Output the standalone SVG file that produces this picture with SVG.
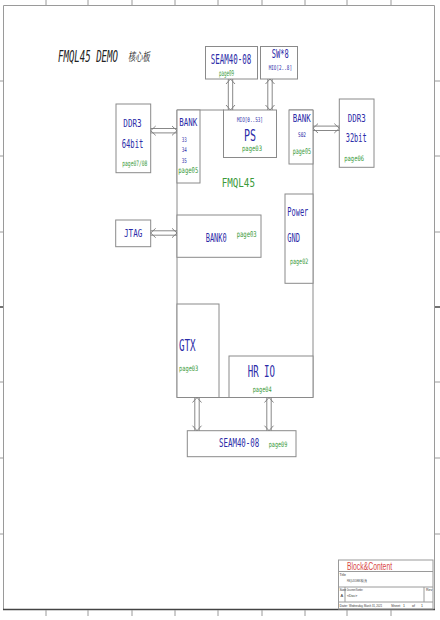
<svg xmlns="http://www.w3.org/2000/svg" width="440" height="620" viewBox="0 0 440 620">
<style>
.bx{fill:#fff;stroke:#8a8a8a;stroke-width:1}
.ln{fill:none;stroke:#8a8a8a;stroke-width:1}
.ar{fill:none;stroke:#7a7a7a;stroke-width:0.9}
.fr{fill:none;stroke:#9a9a9a;stroke-width:1}
.b{font-family:"DejaVu Sans Mono","Liberation Mono",monospace;fill:#2b2ba8}
.g{font-family:"DejaVu Sans Mono","Liberation Mono",monospace;fill:#3a9a3a}
.k{font-family:"DejaVu Sans Mono","Liberation Mono",monospace;fill:#222}
.t{font-family:"Liberation Sans",Arial,sans-serif;fill:#333}
</style>
<rect width="440" height="620" fill="#fff"/>
<g id="frame">
<path class="fr" d="M3.5,5.5 H434.5 V609 M3.5,5.5 V609"/>
<path d="M3,609.5 H435" stroke="#444" stroke-width="1.6" fill="none"/>
<path class="fr" d="M46,0 V5 M88,0 V5 M132,0 V5 M175,0 V5 M218,0 V5 M262,0 V5 M305,0 V5 M347,0 V5 M391,0 V5 M46,610 V616 M88,610 V616 M132,610 V616 M175,610 V616 M218,610 V616 M262,610 V616 M305,610 V616 M347,610 V616 M391,610 V616 M0,81 H3 M0,156 H3 M0,232 H3 M0,382 H3 M0,458 H3 M0,534 H3 M435,81 H440 M435,156 H440 M435,232 H440 M435,382 H440 M435,458 H440 M435,534 H440"/>
<path d="M0,307 H3 M435,307 H440" stroke="#444" stroke-width="1.5"/>
</g>
<g id="title">
<text class="k" font-size="16" font-style="italic" transform="translate(58,62) scale(0.566,1)">FMQL45 DEMO</text>
<text font-family="'Noto Sans CJK SC',sans-serif" font-size="12" font-style="italic" fill="#444" transform="translate(128,61) scale(0.61,1)">核心板</text>
</g>
<g id="fmql45">
<path class="ln" d="M224,110 H177 V397.5 H313 V110 H289"/>
<text class="g" font-size="13" transform="translate(221.7,186.7) scale(0.709,1)">FMQL45</text>
</g>
<g id="seam-top">
<rect class="bx" x="205.5" y="46.5" width="52" height="32.5"/>
<text class="b" font-size="13.5" transform="translate(210.7,64) scale(0.554,1)">SEAM40-08</text>
<text class="g" font-size="8" transform="translate(219,75.7) scale(0.519,1)">page09</text>
</g>
<g id="sw8">
<rect class="bx" x="260.5" y="46.5" width="37" height="32.5"/>
<text class="b" font-size="12.5" transform="translate(271.7,58.3) scale(0.565,1)">SW*8</text>
<text class="b" font-size="6.5" transform="translate(268.7,69.7) scale(0.662,1)">MIO[2..8]</text>
</g>
<g id="ps">
<rect class="bx" x="223.5" y="110" width="53" height="47.5"/>
<text class="b" font-size="6.5" transform="translate(237,122) scale(0.665,1)">MIO[0..53]</text>
<text class="b" font-size="16.5" transform="translate(244,140.5) scale(0.604,1)">PS</text>
<text class="g" font-size="7.5" transform="translate(242,151) scale(0.738,1)">page03</text>
</g>
<g id="bank-left">
<rect class="bx" x="177" y="110" width="23" height="73"/>
<text class="b" font-size="10.5" transform="translate(179.3,126) scale(0.712,1)">BANK</text>
<text class="b" font-size="6.5" transform="translate(181.7,142) scale(0.639,1)">33</text>
<text class="b" font-size="6.5" transform="translate(181.7,152) scale(0.639,1)">34</text>
<text class="b" font-size="6.5" transform="translate(181.7,162.7) scale(0.639,1)">35</text>
<text class="g" font-size="8" transform="translate(178.3,173.3) scale(0.692,1)">page05</text>
</g>
<g id="ddr3-64">
<rect class="bx" x="116" y="104" width="34.7" height="68.7"/>
<text class="b" font-size="11" transform="translate(123.3,126.7) scale(0.694,1)">DDR3</text>
<text class="b" font-size="11.5" transform="translate(121.7,147.7) scale(0.624,1)">64bit</text>
<text class="g" font-size="7.5" transform="translate(122.3,165.7) scale(0.616,1)">page07/08</text>
</g>
<g id="bank-right">
<rect class="bx" x="289" y="110" width="24" height="54"/>
<text class="b" font-size="10.5" transform="translate(292.7,121.7) scale(0.712,1)">BANK</text>
<text class="b" font-size="6.5" transform="translate(298,136.7) scale(0.681,1)">S02</text>
<text class="g" font-size="8" transform="translate(292.7,154) scale(0.633,1)">page05</text>
</g>
<g id="ddr3-32">
<rect class="bx" x="339.3" y="99" width="34.7" height="68.3"/>
<text class="b" font-size="11" transform="translate(347.7,122.3) scale(0.679,1)">DDR3</text>
<text class="b" font-size="11.5" transform="translate(345.7,142.3) scale(0.607,1)">32bit</text>
<text class="g" font-size="7.5" transform="translate(344.3,160.7) scale(0.727,1)">page06</text>
</g>
<g id="power">
<rect class="bx" x="285" y="194" width="28" height="89.3"/>
<text class="b" font-size="11.5" transform="translate(287.3,216) scale(0.607,1)">Power</text>
<text class="b" font-size="11.5" transform="translate(287.3,242.3) scale(0.611,1)">GND</text>
<text class="g" font-size="7.5" transform="translate(290,264.3) scale(0.675,1)">page02</text>
</g>
<g id="bank0">
<rect class="bx" x="177" y="215" width="84" height="42.3"/>
<text class="b" font-size="11.5" transform="translate(205.7,241.7) scale(0.607,1)">BANK0</text>
<text class="g" font-size="8" transform="translate(236.7,237.3) scale(0.692,1)">page03</text>
</g>
<g id="jtag">
<rect class="bx" x="115.7" y="220" width="35" height="26.7"/>
<text class="b" font-size="11" transform="translate(124,236.7) scale(0.691,1)">JTAG</text>
</g>
<g id="gtx">
<rect class="bx" x="177" y="304" width="42" height="93.5"/>
<text class="b" font-size="15" transform="translate(179,351) scale(0.616,1)">GTX</text>
<text class="g" font-size="7.5" transform="translate(179,370.7) scale(0.712,1)">page03</text>
</g>
<g id="hrio">
<rect class="bx" x="229" y="356" width="84" height="41.5"/>
<text class="b" font-size="15" transform="translate(247.7,377.3) scale(0.604,1)">HR IO</text>
<text class="g" font-size="7.5" transform="translate(252.7,392.3) scale(0.701,1)">page04</text>
</g>
<g id="seam-bottom">
<rect class="bx" x="187.3" y="430.7" width="108.7" height="26"/>
<text class="b" font-size="12.5" transform="translate(219,446.7) scale(0.595,1)">SEAM40-08</text>
<text class="g" font-size="7.5" transform="translate(268.7,447.3) scale(0.686,1)">page09</text>
</g>
<g id="connectors">
<path class="ar" d="M228.3,79 V110 M232.7,79 V110 M226,84 L230.5,79 L235,84 M226,105 L230.5,110 L235,105"/>
<path class="ar" d="M267.8,79 V110 M272.2,79 V110 M265.5,84 L270,79 L274.5,84 M265.5,105 L270,110 L274.5,105"/>
<path class="ar" d="M150.7,128.5 H177 M150.7,132.9 H177 M155.7,126 L150.7,130.7 L155.7,135.4 M172,126 L177,130.7 L172,135.4"/>
<path class="ar" d="M313,126.1 H339.3 M313,130.5 H339.3 M318,123.6 L313,128.3 L318,133 M334.3,123.6 L339.3,128.3 L334.3,133"/>
<path class="ar" d="M150.7,230.8 H177 M150.7,235.2 H177 M155.7,228.3 L150.7,233 L155.7,237.7 M172,228.3 L177,233 L172,237.7"/>
<path class="ar" d="M194.8,397.5 V430.7 M199.2,397.5 V430.7 M192.5,402.5 L197,397.5 L201.5,402.5 M192.5,425.7 L197,430.7 L201.5,425.7"/>
<path class="ar" d="M266.8,397.5 V430.7 M271.2,397.5 V430.7 M264.5,402.5 L269,397.5 L273.5,402.5 M264.5,425.7 L269,430.7 L273.5,425.7"/>
</g>
<g id="titleblock">
<rect class="fr" x="338.5" y="560" width="94.5" height="49" fill="#fff"/>
<path class="fr" d="M338.5,571.5 H433 M338.5,587 H433 M338.5,602 H433 M345,587 V602 M424,587 V602"/>
<text font-family="'Liberation Sans',Arial,sans-serif" font-size="10.5" fill="#d94848" transform="translate(347,570) scale(0.65,1)">Block&amp;Content</text>
<text x="339.5" y="576" class="t" font-size="3.5">Title</text>
<text class="t" font-size="4" transform="translate(347,582) scale(0.5,1)">FMQL45 DEMO核心板</text>
<text x="339.5" y="591" class="t" font-size="3.5">Size</text>
<text x="340.5" y="597" class="t" font-size="4">A</text>
<text class="t" font-size="3.5" transform="translate(347,591) scale(0.54,1)">Document Number</text>
<text x="347" y="596.5" class="t" font-size="3.5">&lt;Doc&gt;</text>
<text x="426" y="591" class="t" font-size="3.5">Rev</text>
<text x="339.5" y="607" class="t" font-size="3.5">Date:</text>
<text class="t" font-size="3.5" transform="translate(349,607) scale(0.75,1)">Wednesday, March 31, 2021</text>
<text x="391" y="607" class="t" font-size="3.5">Sheet</text>
<text x="403" y="607" class="t" font-size="3.5">1</text>
<text x="412" y="607" class="t" font-size="3.5">of</text>
<text x="421" y="607" class="t" font-size="3.5">1</text>
</g>
</svg>
